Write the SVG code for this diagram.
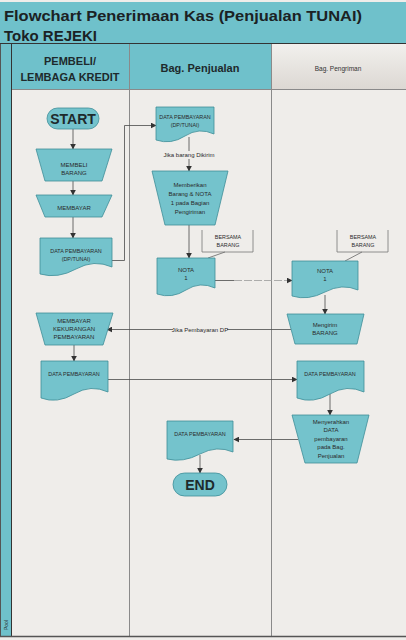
<svg xmlns="http://www.w3.org/2000/svg" width="406" height="640" viewBox="0 0 406 640">
<defs>
<linearGradient id="hdr3" x1="0" y1="0" x2="0" y2="1"><stop offset="0" stop-color="#f2f0ed"/><stop offset="1" stop-color="#dcd8d3"/></linearGradient>
<marker id="ah" viewBox="0 0 10 10" refX="9" refY="5" markerWidth="6" markerHeight="6" markerUnits="userSpaceOnUse" orient="auto"><path d="M0,0 L10,5 L0,10 Z" fill="#333"/></marker>
<style>
.shape{fill:#74c3cc;stroke:#3f8e98;stroke-width:0.8}
.lbl{font-family:"Liberation Sans",Arial,sans-serif;font-size:6px;fill:#2a2a2a;text-anchor:middle}
.sm{font-size:5.4px}
.term{font-family:"Liberation Sans",Arial,sans-serif;font-size:14px;font-weight:bold;fill:#1e2a2c;text-anchor:middle}
.hdr{font-family:"Liberation Sans",Arial,sans-serif;font-size:11px;font-weight:bold;fill:#1e2a2c;text-anchor:middle}
.conn{fill:none;stroke:#4a4a4a;stroke-width:0.8}
.lane{stroke:#8a8a8a;stroke-width:1}
.note{fill:none;stroke:#777;stroke-width:0.8}
</style>
</defs>
<rect x="0" y="0" width="406" height="640" fill="#efedea"/>
<!-- title band -->
<rect x="0" y="2" width="406" height="42" fill="#6fc1cb"/>
<text x="4" y="21" font-family="Liberation Sans,Arial,sans-serif" font-size="15.5" font-weight="bold" fill="#1b2224" textLength="358" lengthAdjust="spacingAndGlyphs">Flowchart Penerimaan Kas (Penjualan TUNAI)</text>
<text x="4" y="41" font-family="Liberation Sans,Arial,sans-serif" font-size="15.5" font-weight="bold" fill="#1b2224" textLength="93" lengthAdjust="spacingAndGlyphs">Toko REJEKI</text>
<line x1="0" y1="43.5" x2="406" y2="43.5" stroke="#333" stroke-width="1"/>
<!-- pool strip -->
<rect x="0" y="44" width="11" height="592" fill="#6fc1cb"/>
<line x1="11.5" y1="44" x2="11.5" y2="636" stroke="#333" stroke-width="1"/>
<line x1="0.5" y1="44" x2="0.5" y2="636" stroke="#555" stroke-width="1"/>
<text transform="translate(8,630) rotate(-90)" font-family="Liberation Sans,Arial,sans-serif" font-size="5" fill="#222">Pool</text>
<!-- headers -->
<rect x="12" y="44" width="117" height="45" fill="#6fc1cb"/>
<rect x="129" y="44" width="142" height="45" fill="#6fc1cb"/>
<rect x="271" y="44" width="135" height="45" fill="url(#hdr3)"/>
<line x1="12" y1="89.5" x2="406" y2="89.5" stroke="#8a8a8a"/>
<text class="hdr" x="70" y="65">PEMBELI/</text>
<text class="hdr" x="70" y="81">LEMBAGA KREDIT</text>
<text class="hdr" x="200" y="72">Bag. Penjualan</text>
<text x="338" y="71" font-family="Liberation Sans,Arial,sans-serif" font-size="6.5" fill="#333" text-anchor="middle">Bag. Pengriman</text>
<!-- lanes -->
<line class="lane" x1="129.5" y1="44" x2="129.5" y2="636"/>
<line class="lane" x1="271.5" y1="44" x2="271.5" y2="636"/>
<line x1="0" y1="636.5" x2="406" y2="636.5" stroke="#555" stroke-width="1.5"/>

<!-- connectors -->
<g id="connectors">
<line class="conn" x1="73" y1="129" x2="73" y2="149" marker-end="url(#ah)"/>
<line class="conn" x1="73" y1="181" x2="73" y2="195" marker-end="url(#ah)"/>
<line class="conn" x1="73" y1="217" x2="73" y2="238" marker-end="url(#ah)"/>
<path class="conn" d="M112,260.5 H124.5 V125.5 H156" marker-end="url(#ah)"/>
<line class="conn" x1="189" y1="137" x2="189" y2="171" marker-end="url(#ah)"/>
<rect x="160" y="151" width="58" height="8" fill="#efedea"/>
<text class="lbl" x="189" y="157">Jika barang Dikirim</text>
<line class="conn" x1="189" y1="225" x2="189" y2="258" marker-end="url(#ah)"/>
<line x1="225" y1="252" x2="208" y2="258" stroke="#666" stroke-width="0.8"/>
<line x1="362" y1="252" x2="345" y2="261" stroke="#666" stroke-width="0.8"/>
<line x1="215" y1="280.5" x2="234" y2="280.5" stroke="#4a4a4a" stroke-width="0.8"/>
<line x1="234" y1="280.5" x2="292" y2="280.5" stroke="#9a9a9a" stroke-width="0.8" stroke-dasharray="8,2" marker-end="url(#ah)"/>
<line class="conn" x1="325" y1="295" x2="325" y2="314" marker-end="url(#ah)"/>
<path class="conn" d="M291,329.5 H227 M173,329.5 H107" marker-end="url(#ah)"/>
<text class="lbl" x="200" y="331.5">Jika Pembayaran DP</text>
<line class="conn" x1="74" y1="345" x2="74" y2="361" marker-end="url(#ah)"/>
<line class="conn" x1="108" y1="379.5" x2="297" y2="379.5" marker-end="url(#ah)"/>
<line class="conn" x1="330" y1="394" x2="330" y2="415" marker-end="url(#ah)"/>
<line class="conn" x1="298" y1="439.5" x2="234" y2="439.5" marker-end="url(#ah)"/>
<line class="conn" x1="200" y1="455" x2="200" y2="473" marker-end="url(#ah)"/>
</g>

<!-- nodes -->
<g id="start">
<rect class="shape" x="47" y="108" width="52" height="21" rx="10.5"/>
<text class="term" x="73" y="123.5">START</text>
</g>
<g id="membeli">
<polygon class="shape" points="36,149 112,149 102,181 45,181"/>
<text class="lbl" x="74" y="167">MEMBELI</text>
<text class="lbl" x="74" y="175">BARANG</text>
</g>
<g id="membayar">
<polygon class="shape" points="36,195 112,195 102,217 45,217"/>
<text class="lbl" x="74" y="210">MEMBAYAR</text>
</g>
<g id="doc-dp-left">
<path class="shape" d="M40,238 H112 V267 Q94,259 76,269 T40,274 Z"/>
<text class="lbl sm" x="76" y="253">DATA PEMBAYARAN</text>
<text class="lbl sm" x="76" y="261">(DP/TUNAI)</text>
</g>
<g id="doc-dp-mid">
<path class="shape" d="M156,107 H214 V134 Q199,127 185,136 T156,140 Z"/>
<text class="lbl sm" x="185" y="119">DATA PEMBAYARAN</text>
<text class="lbl sm" x="185" y="127">(DP/TUNAI)</text>
</g>
<g id="memberikan">
<polygon class="shape" points="152,171 228,171 215,225 165,225"/>
<text class="lbl" x="190" y="187">Memberikan</text>
<text class="lbl" x="190" y="196">Barang &amp; NOTA</text>
<text class="lbl" x="190" y="205">1 pada Bagian</text>
<text class="lbl" x="190" y="214">Pengiriman</text>
</g>
<g id="note-mid">
<path class="note" d="M202,230 V252 H253 V230"/>
<text class="lbl sm" x="228" y="239">BERSAMA</text>
<text class="lbl sm" x="228" y="247">BARANG</text>
</g>
<g id="nota-mid">
<path class="shape" d="M157,258 H215 V288 Q200,281 186,290 T157,294 Z"/>
<text class="lbl" x="186" y="272">NOTA</text>
<text class="lbl" x="186" y="280">1</text>
</g>
<g id="note-right">
<path class="note" d="M337,230 V252 H388 V230"/>
<text class="lbl sm" x="363" y="239">BERSAMA</text>
<text class="lbl sm" x="363" y="247">BARANG</text>
</g>
<g id="nota-right">
<path class="shape" d="M292,261 H358 V290 Q342,283 325,292 T292,296 Z"/>
<text class="lbl" x="325" y="273">NOTA</text>
<text class="lbl" x="325" y="281">1</text>
</g>
<g id="mengirim">
<polygon class="shape" points="287,314 364,314 357,344 295,344"/>
<text class="lbl" x="325" y="327">Mengirim</text>
<text class="lbl" x="325" y="335">BARANG</text>
</g>
<g id="kekurangan">
<polygon class="shape" points="36,313 113,313 103,345 45,345"/>
<text class="lbl" x="74" y="323">MEMBAYAR</text>
<text class="lbl" x="74" y="331">KEKURANGAN</text>
<text class="lbl" x="74" y="339">PEMBAYARAN</text>
</g>
<g id="doc-left2">
<path class="shape" d="M41,361 H108 V392 Q91,384 74,394 T41,398 Z"/>
<text class="lbl sm" x="74" y="376">DATA PEMBAYARAN</text>
</g>
<g id="doc-right2">
<path class="shape" d="M297,361 H364 V392 Q347,384 330,394 T297,398 Z"/>
<text class="lbl sm" x="330" y="376">DATA PEMBAYARAN</text>
</g>
<g id="menyerahkan">
<polygon class="shape" points="292,415 369,415 357,463 305,463"/>
<text class="lbl" x="331" y="424">Menyerahkan</text>
<text class="lbl" x="331" y="432">DATA</text>
<text class="lbl" x="331" y="441">pembayaran</text>
<text class="lbl" x="331" y="449">pada Bag.</text>
<text class="lbl" x="331" y="458">Penjualan</text>
</g>
<g id="doc-mid3">
<path class="shape" d="M167,421 H233 V452 Q217,445 200,454 T167,459 Z"/>
<text class="lbl sm" x="200" y="436">DATA PEMBAYARAN</text>
</g>
<g id="end">
<rect class="shape" x="173" y="473" width="54" height="23" rx="11.5"/>
<text class="term" x="200" y="490">END</text>
</g>
</svg>
